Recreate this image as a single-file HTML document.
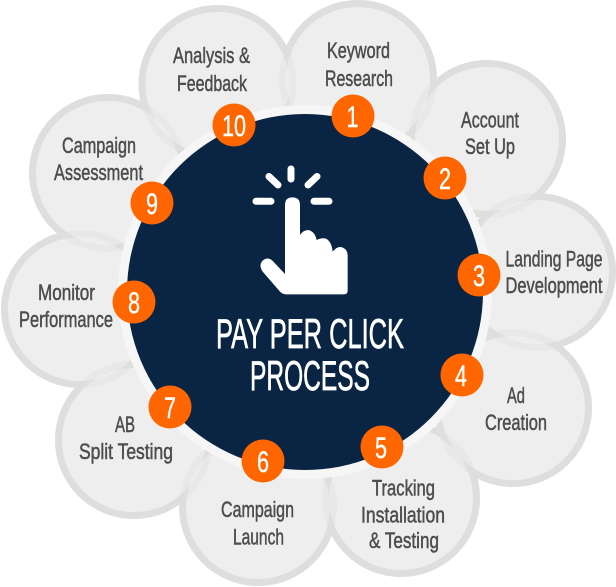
<!DOCTYPE html>
<html><head><meta charset="utf-8"><style>
html,body{margin:0;padding:0;background:#fff}
svg{display:block}
.l{font-family:"Liberation Sans",sans-serif;font-size:22px;fill:#4d4d4d;stroke:#4d4d4d;stroke-width:.5}
.n{font-family:"Liberation Sans",sans-serif;font-size:30px;fill:#fff;stroke:#fff;stroke-width:.4;text-anchor:middle}
.t{font-family:"Liberation Sans",sans-serif;font-size:42px;fill:#fff;stroke:#fff;stroke-width:.7}
</style></head><body>
<svg width="616" height="587" viewBox="0 0 616 587" xmlns="http://www.w3.org/2000/svg">
<g fill="#eeeeee">
<circle cx="358" cy="79" r="79"/><circle cx="217.500" cy="84" r="79"/><circle cx="487" cy="139" r="79"/>
<circle cx="537" cy="272" r="79"/><circle cx="513" cy="408" r="79"/><circle cx="401" cy="498" r="79"/>
<circle cx="258" cy="507" r="79"/><circle cx="134" cy="440" r="79"/><circle cx="80" cy="309" r="79"/>
<circle cx="108" cy="173" r="79"/>
</g>
<g fill="none" stroke="#dedede" stroke-width="7">
<circle cx="358" cy="79" r="75.500"/><circle cx="217.500" cy="84" r="75.500"/><circle cx="487" cy="139" r="75.500"/>
<circle cx="537" cy="272" r="75.500"/><circle cx="513" cy="408" r="75.500"/><circle cx="401" cy="498" r="75.500"/>
<circle cx="258" cy="507" r="75.500"/><circle cx="134" cy="440" r="75.500"/><circle cx="80" cy="309" r="75.500"/>
<circle cx="108" cy="173" r="75.500"/>
</g>
<g fill="#eeeeee" fill-opacity=".6">
<circle cx="358" cy="79" r="72"/><circle cx="217.500" cy="84" r="72"/><circle cx="487" cy="139" r="72"/>
<circle cx="537" cy="272" r="72"/><circle cx="513" cy="408" r="72"/><circle cx="401" cy="498" r="72"/>
<circle cx="258" cy="507" r="72"/><circle cx="134" cy="440" r="72"/><circle cx="80" cy="309" r="72"/>
<circle cx="108" cy="173" r="72"/>
</g>
<circle cx="305" cy="292" r="187" fill="#f6f6f6"/>
<circle cx="305" cy="292" r="178" fill="#0a2444"/>

<g stroke="#fff" stroke-width="7" stroke-linecap="round" fill="none">
<line x1="291" y1="169" x2="291" y2="179"/>
<line x1="269" y1="176.500" x2="278" y2="185"/>
<line x1="317" y1="176.500" x2="308" y2="185"/>
<line x1="256" y1="201.300" x2="271" y2="201.300"/>
<line x1="314" y1="201.300" x2="329" y2="201.300"/>
</g>
<g transform="translate(220 150) scale(.33333)">
<path fill="#fff" d="M195 165 Q195 142 217 142 Q240 142 240 165 L240 255 Q250 240 265 240 Q285 245 290 270 Q305 262 318 266 Q335 275 338 305 Q350 290 362 291 Q383 295 383 318 L383 422 Q383 433 372 433 L198 433 Q188 433 180 425 L128 365 Q115 345 128 332 Q145 318 160 335 L195 372 Z"/>
</g>

<text class="t" x="216" y="348" textLength="188" lengthAdjust="spacingAndGlyphs">PAY PER CLICK</text>
<text class="t" x="250" y="390" textLength="120" lengthAdjust="spacingAndGlyphs">PROCESS</text>

<g class="lbls">
<text class="l" x="327" y="58" textLength="63" lengthAdjust="spacingAndGlyphs">Keyword</text>
<text class="l" x="325" y="86" textLength="68" lengthAdjust="spacingAndGlyphs">Research</text>
<text class="l" x="173" y="63" textLength="77" lengthAdjust="spacingAndGlyphs">Analysis &amp;</text>
<text class="l" x="177" y="91" textLength="70" lengthAdjust="spacingAndGlyphs">Feedback</text>
<text class="l" x="461" y="127.500" textLength="58" lengthAdjust="spacingAndGlyphs">Account</text>
<text class="l" x="465" y="154" textLength="50" lengthAdjust="spacingAndGlyphs">Set Up</text>
<text class="l" x="505.500" y="266.500" textLength="97" lengthAdjust="spacingAndGlyphs">Landing Page</text>
<text class="l" x="505.500" y="293" textLength="97" lengthAdjust="spacingAndGlyphs">Development</text>
<text class="l" x="507" y="403" textLength="18" lengthAdjust="spacingAndGlyphs">Ad</text>
<text class="l" x="485" y="430" textLength="62" lengthAdjust="spacingAndGlyphs">Creation</text>
<text class="l" x="372" y="495.500" textLength="63" lengthAdjust="spacingAndGlyphs">Tracking</text>
<text class="l" x="361" y="522.500" textLength="84" lengthAdjust="spacingAndGlyphs">Installation</text>
<text class="l" x="369" y="548" textLength="70" lengthAdjust="spacingAndGlyphs">&amp; Testing</text>
<text class="l" x="221" y="517" textLength="73" lengthAdjust="spacingAndGlyphs">Campaign</text>
<text class="l" x="233" y="544.500" textLength="51" lengthAdjust="spacingAndGlyphs">Launch</text>
<text class="l" x="115" y="432" textLength="20" lengthAdjust="spacingAndGlyphs">AB</text>
<text class="l" x="79" y="459" textLength="94" lengthAdjust="spacingAndGlyphs">Split Testing</text>
<text class="l" x="38" y="300" textLength="57" lengthAdjust="spacingAndGlyphs">Monitor</text>
<text class="l" x="19" y="327" textLength="94" lengthAdjust="spacingAndGlyphs">Performance</text>
<text class="l" x="62" y="153" textLength="74" lengthAdjust="spacingAndGlyphs">Campaign</text>
<text class="l" x="54" y="180" textLength="89" lengthAdjust="spacingAndGlyphs">Assessment</text>
</g>

<g fill="#ff6600">
<circle cx="353" cy="116" r="21.500"/><circle cx="234" cy="125" r="21.500"/><circle cx="152" cy="203" r="21.500"/>
<circle cx="134" cy="302" r="21.500"/><circle cx="170" cy="407" r="21.500"/><circle cx="263" cy="461" r="21.500"/>
<circle cx="382" cy="447" r="21.500"/><circle cx="462" cy="375" r="21.500"/><circle cx="479" cy="275" r="21.500"/>
<circle cx="445" cy="178" r="21.500"/>
</g>
<g>
<text class="n" transform="translate(352.500 127) scale(.72 1)">1</text>
<text class="n" transform="translate(234 136) scale(.72 1)">10</text>
<text class="n" transform="translate(152 214) scale(.72 1)">9</text>
<text class="n" transform="translate(134 313) scale(.72 1)">8</text>
<text class="n" transform="translate(170 418) scale(.72 1)">7</text>
<text class="n" transform="translate(263 472) scale(.72 1)">6</text>
<text class="n" transform="translate(381 458) scale(.72 1)">5</text>
<text class="n" transform="translate(461 386) scale(.72 1)">4</text>
<text class="n" transform="translate(479 286) scale(.72 1)">3</text>
<text class="n" transform="translate(445 189) scale(.72 1)">2</text>
</g>
</svg>
</body></html>
